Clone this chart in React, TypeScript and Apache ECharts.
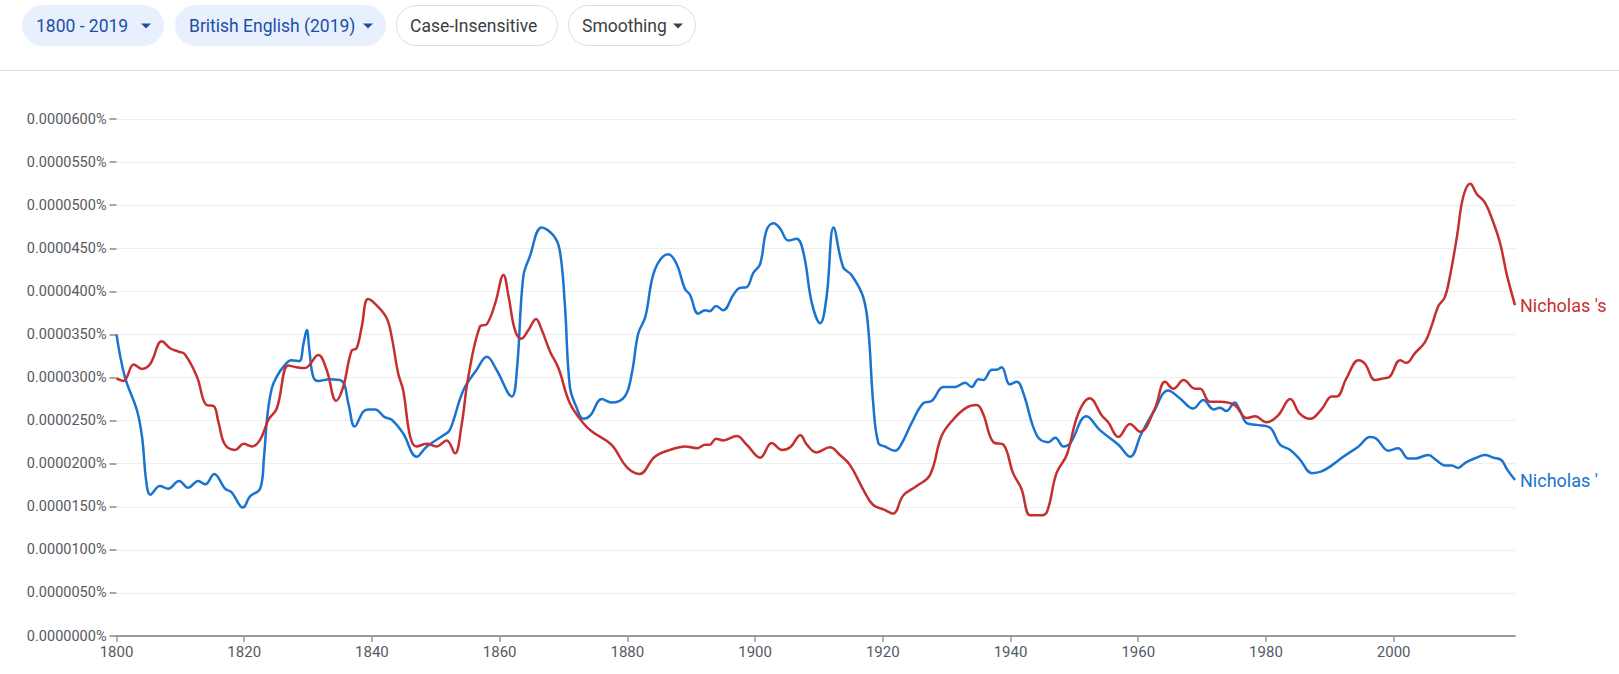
import React, { useEffect, useRef } from "react";
import * as echarts from "echarts";

// Frequencies are stored in units of 1e-7 percent (350 -> 0.0000350%).
const apostropheYears = [
  1800, 1801.3, 1803.2, 1804, 1804.7, 1805.3, 1806.8, 1808.1, 1809.8, 1811.2, 1812.8, 1813.9,
  1815.3, 1817, 1818, 1819.8, 1820.9, 1822.5, 1823.1, 1823.6, 1824.3, 1825.1, 1826.1, 1827.4,
  1828.6, 1829.3, 1829.8, 1830.2, 1830.8, 1831.6, 1833.4, 1835.3, 1836.3, 1837.3, 1838.6, 1839.4,
  1840.5, 1842, 1843.1, 1844.9, 1847, 1848.6, 1851.2, 1852.2, 1854.3, 1856.4, 1858, 1859.5,
  1861.9, 1862.7, 1863.7, 1864.7, 1866.6, 1868.4, 1869.4, 1870.2, 1871, 1872, 1873.1, 1874.2,
  1876, 1877.5, 1879.6, 1880.7, 1881.7, 1882.8, 1884.3, 1886.4, 1887.7, 1889, 1889.8, 1891.1,
  1892.2, 1892.9, 1893.9, 1895, 1896.6, 1897.6, 1898.7, 1899.7, 1900.8, 1901.8, 1902.9, 1903.9,
  1905.2, 1906.5, 1907.6, 1908.9, 1910.2, 1911.2, 1912.3, 1913.8, 1915.1, 1916.9, 1917.7, 1918.5,
  1919.3, 1920.3, 1921.9, 1923, 1924.5, 1926.3, 1927.7, 1929.5, 1931.3, 1932.9, 1933.9, 1935,
  1935.7, 1937.1, 1937.8, 1938.6, 1939.9, 1941, 1942, 1944.1, 1945.9, 1947, 1948.3, 1949.3,
  1951.9, 1954, 1956.9, 1958.7, 1960.5, 1962.4, 1964.7, 1966.5, 1968.6, 1970.2, 1971.8, 1972.8,
  1973.8, 1975.1, 1975.9, 1977, 1978.5, 1980.6, 1982.2, 1983.8, 1985.3, 1987.2, 1988.7, 1990.3,
  1992.1, 1994.5, 1996.3, 1997.3, 1999.2, 2000.7, 2002.3, 2003.3, 2005.4, 2006.7, 2008, 2009.1,
  2010.1, 2011.2, 2013, 2014.3, 2015.6, 2016.9, 2017.7, 2019,
];
const apostropheValues = [
  350, 301, 262, 231, 177, 164, 174, 171, 180, 172, 180, 176,
  188, 171, 167, 149, 162, 171, 208, 254, 287, 301, 312, 320,
  319, 340, 355, 332, 301, 296, 298, 296, 270, 243, 260, 263,
  263, 254, 251, 235, 208, 220, 233, 239, 285, 309, 324, 309,
  278, 309, 417, 440, 474, 465, 448, 386, 289, 266, 252, 256,
  275, 271, 278, 305, 351, 370, 425, 443, 432, 403, 396, 374,
  378, 377, 383, 378, 396, 404, 405, 421, 432, 471, 479, 473,
  459, 461, 444, 386, 363, 394, 474, 428, 419, 394, 359, 270,
  224, 220, 215, 224, 247, 270, 273, 289, 289, 294, 289, 298,
  297, 309, 309, 312, 292, 295, 282, 233, 225, 230, 220, 223,
  255, 239, 222, 208, 235, 260, 285, 276, 264, 274, 263, 265,
  261, 271, 262, 247, 245, 242, 222, 216, 205, 189, 191, 198,
  208, 220, 231, 229, 215, 218, 206, 206, 210, 204, 198, 198,
  195, 201, 207, 210, 207, 204, 194, 181,
];

const possessiveYears = [
  1800, 1801.1, 1802.7, 1804, 1805.3, 1807.1, 1808.4, 1809.7, 1810.7, 1812.6, 1814.1, 1815.2,
  1816, 1817, 1818.6, 1819.9, 1821.2, 1822.5, 1823.8, 1825.1, 1826.9, 1828.2, 1829.5, 1831.6,
  1832.9, 1834.4, 1835.5, 1836.8, 1837.6, 1838.4, 1839.4, 1840.7, 1842.3, 1843.1, 1844.1, 1844.9,
  1846, 1847, 1848.6, 1850.1, 1851.7, 1853, 1854, 1855.1, 1856.9, 1858, 1859.3, 1860.6,
  1861.4, 1862.4, 1863.4, 1864.5, 1865.7, 1866.6, 1867.9, 1869.2, 1871, 1873.1, 1874.5, 1877.5,
  1879.9, 1881.9, 1884.3, 1886.7, 1889, 1890.9, 1892.2, 1892.9, 1893.9, 1895, 1897.1, 1898.7,
  1900.8, 1902.6, 1904.2, 1905.5, 1907.1, 1908.1, 1909.6, 1911.7, 1913.3, 1914.9, 1917, 1918.5,
  1920.1, 1921.6, 1923.2, 1925.3, 1927.4, 1929.2, 1931, 1933.1, 1934.7, 1935.7, 1937.3, 1938.9,
  1940.4, 1941.7, 1943.1, 1944.6, 1945.7, 1947.2, 1948.8, 1950.6, 1952.4, 1954.3, 1955.3, 1956.9,
  1958.7, 1960.3, 1962.6, 1964.2, 1965.5, 1967.1, 1968.9, 1969.7, 1971.2, 1972.8, 1975.1, 1977,
  1978.3, 1980.1, 1981.9, 1983.8, 1985.3, 1986.9, 1988.7, 1990.3, 1991.1, 1992.6, 1994.5, 1995.5,
  1997.1, 1998.4, 1999.4, 2001, 2002, 2003.3, 2004.9, 2005.9, 2007, 2008, 2008.8, 2009.9,
  2010.9, 2012, 2013, 2014.3, 2015.6, 2016.7, 2017.7, 2019,
];
const possessiveValues = [
  299, 296, 315, 310, 316, 342, 334, 330, 327, 301, 268, 267,
  247, 222, 216, 223, 220, 228, 251, 264, 314, 312, 311, 326,
  309, 273, 289, 331, 334, 359, 391, 384, 369, 347, 305, 285,
  231, 220, 223, 220, 227, 212, 243, 301, 359, 362, 386, 419,
  394, 355, 345, 355, 368, 355, 330, 311, 270, 247, 237, 222,
  196, 188, 208, 216, 220, 218, 222, 222, 229, 227, 232, 222,
  207, 224, 216, 219, 233, 222, 213, 219, 210, 198, 169, 152,
  147, 142, 163, 174, 187, 232, 251, 265, 268, 258, 225, 222,
  189, 171, 140, 140, 144, 189, 210, 258, 276, 256, 248, 231,
  246, 237, 264, 295, 287, 297, 287, 287, 272, 272, 268, 253,
  255, 248, 256, 275, 258, 252, 263, 278, 278, 299, 320, 316,
  297, 299, 301, 320, 317, 328, 341, 359, 383, 393, 417, 463,
  510, 525, 513, 503, 480, 455, 420, 384,
];

const yearTicks = [1800, 1820, 1840, 1860, 1880, 1900, 1920, 1940, 1960, 1980, 2000];

const seriesNames = ["Nicholas '", "Nicholas 's"];
const seriesColors = ["#1a73d0", "#c62f2f"];

const controls = [
  { label: "1800 - 2019", x: 22, w: 141, filled: true, arrow: true },
  { label: "British English (2019)", x: 175, w: 210, filled: true, arrow: true },
  { label: "Case-Insensitive", x: 396, w: 161, filled: false, arrow: false },
  { label: "Smoothing", x: 568, w: 127, filled: false, arrow: true },
];

const FONT = "Roboto, 'Noto Sans', Arial, sans-serif";

function buildHeader() {
  const elements: any[] = [];
  controls.forEach((c) => {
    const top = 5;
    const h = 40;
    elements.push({
      type: "rect",
      shape: { x: c.x + 0.5, y: top + 0.5, width: c.w, height: h, r: h / 2 },
      style: {
        fill: c.filled ? "#e8f0fe" : "#ffffff",
        stroke: c.filled ? "#e8f0fe" : "#dadce0",
        lineWidth: 1,
      },
    });
    const textColor = c.filled ? "#1a4fa3" : "#3c4043";
    const padL = 14;
    elements.push({
      type: "text",
      style: {
        text: c.label,
        x: c.x + padL,
        y: top + h / 2 + 1,
        fill: textColor,
        font: `17.5px ${FONT}`,
        textAlign: "left",
        textVerticalAlign: "middle",
        align: "left",
        verticalAlign: "middle",
      },
    });
    if (c.arrow) {
      const ax = c.x + c.w - 17;
      const ay = top + h / 2 + 1;
      elements.push({
        type: "polygon",
        shape: {
          points: [
            [ax - 5, ay - 2.5],
            [ax + 5, ay - 2.5],
            [ax, ay + 2.5],
          ],
        },
        style: { fill: textColor },
      });
    }
  });
  elements.push({
    type: "line",
    shape: { x1: 0, y1: 70.5, x2: 1619, y2: 70.5 },
    style: { stroke: "#dadce0", lineWidth: 1 },
  });
  return elements;
}

export default function App() {
  const ref = useRef<HTMLDivElement>(null);

  useEffect(() => {
    if (!ref.current) return;
    const chart = echarts.init(ref.current, undefined, { renderer: "svg" });
    const lines = [
      { years: apostropheYears, values: apostropheValues },
      { years: possessiveYears, values: possessiveValues },
    ];
    chart.setOption({
      animation: false,
      backgroundColor: "#ffffff",
      textStyle: { fontFamily: FONT },
      graphic: buildHeader(),
      grid: { left: 116.5, right: 104, top: 119, bottom: 38, containLabel: false },
      xAxis: {
        type: "value",
        min: 1800,
        max: 2019,
        interval: 20,
        axisLine: { show: true, lineStyle: { color: "#9a9a9a", width: 2 } },
        axisTick: {
          show: true,
          length: 6,
          customValues: yearTicks,
          lineStyle: { color: "#9a9a9a", width: 1.5 },
        },
        axisLabel: {
          customValues: yearTicks,
          color: "#555a5f",
          fontSize: 15,
          margin: 8,
          fontFamily: FONT,
          formatter: (v: number) => String(v),
        },
        splitLine: { show: false },
      },
      yAxis: {
        type: "value",
        min: 0,
        max: 600,
        interval: 50,
        axisLine: { show: false },
        axisTick: { show: true, length: 7, lineStyle: { color: "#8a8a8a", width: 1.5 } },
        axisLabel: {
          color: "#555a5f",
          fontSize: 14.5,
          margin: 10,
          fontFamily: FONT,
          formatter: (v: number) => (v * 1e-7).toFixed(7) + "%",
        },
        splitLine: { show: true, lineStyle: { color: "#eeeeee", width: 1 } },
      },
      series: lines.map((l, i) => ({
        name: seriesNames[i],
        type: "line",
        data: l.years.map((y, j) => [y, l.values[j]]),
        showSymbol: false,
        smooth: 0.4,
        lineStyle: { color: seriesColors[i], width: 2.5 },
        itemStyle: { color: seriesColors[i] },
        endLabel: {
          show: true,
          formatter: "{a}",
          color: seriesColors[i],
          fontSize: 18,
          fontFamily: FONT,
          distance: 5,
        },
      })),
    });
    return () => chart.dispose();
  }, []);

  return (
    <div
      ref={ref}
      style={{ position: "absolute", left: 0, top: 0, width: 1619, height: 674, background: "#fff" }}
    />
  );
}
